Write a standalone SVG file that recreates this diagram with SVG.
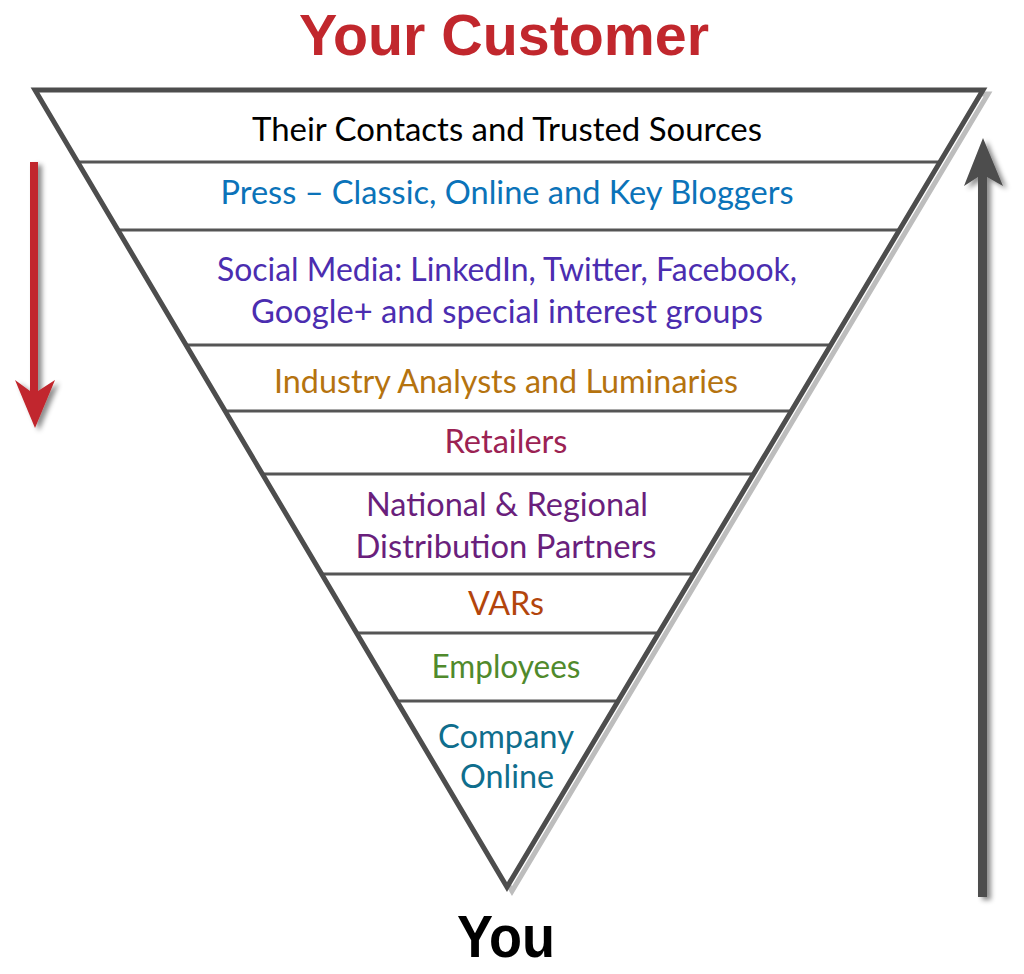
<svg xmlns="http://www.w3.org/2000/svg" width="1024" height="974" viewBox="0 0 1024 974">
<defs>
<filter id="sh" x="-50%" y="-10%" width="200%" height="120%">
<feDropShadow dx="4" dy="3" stdDeviation="2.5" flood-color="#000" flood-opacity="0.45"/>
</filter>
<style>
.lbl{font-family:Lato,"Open Sans","Liberation Sans",sans-serif;font-size:32px;text-anchor:middle}
.band{stroke:#555;stroke-width:3}
</style>
</defs>
<rect width="1024" height="974" fill="#fff"/>
<g id="title">
<text x="504" y="55" font-family="'Liberation Sans',Arial,sans-serif" font-weight="bold" font-size="58" fill="#c1272d" text-anchor="middle" textLength="410" lengthAdjust="spacingAndGlyphs">Your Customer</text>
</g>
<g id="funnel">
<polygon points="35,90 983,90 507,887" fill="none" stroke="#bdbdbd" stroke-width="5" transform="translate(5,4)"/>
<polygon points="35,90 983,90 507,887" fill="#fff"/>
</g>
<g id="bands">
<line class="band" x1="77" y1="162" x2="941" y2="162"/>
<line class="band" x1="117" y1="230" x2="900" y2="230"/>
<line class="band" x1="185" y1="345" x2="831" y2="345"/>
<line class="band" x1="224" y1="411" x2="792" y2="411"/>
<line class="band" x1="262" y1="474" x2="754" y2="474"/>
<line class="band" x1="321" y1="574" x2="694" y2="574"/>
<line class="band" x1="356" y1="633" x2="659" y2="633"/>
<line class="band" x1="396" y1="701" x2="618" y2="701"/>
</g>
<g id="outline">
<polygon points="35,90 983,90 507,887" fill="none" stroke="#4d4d4d" stroke-width="5" stroke-linejoin="miter"/>
</g>
<g id="n1"><text class="lbl" x="507" y="141" fill="#000" textLength="510" lengthAdjust="spacingAndGlyphs">Their Contacts and Trusted Sources</text></g>
<g id="n2"><text class="lbl" x="507" y="204" fill="#0b73b9" textLength="573" lengthAdjust="spacingAndGlyphs">Press – Classic, Online and Key Bloggers</text></g>
<g id="n3">
<text class="lbl" x="507" y="281" fill="#4b2db0" textLength="580" lengthAdjust="spacingAndGlyphs">Social Media: LinkedIn, Twitter, Facebook,</text>
<text class="lbl" x="507" y="323" fill="#4b2db0" textLength="512" lengthAdjust="spacingAndGlyphs">Google+ and special interest groups</text>
</g>
<g id="n4"><text class="lbl" x="506" y="393" fill="#b5730f" textLength="464" lengthAdjust="spacingAndGlyphs">Industry Analysts and Luminaries</text></g>
<g id="n5"><text class="lbl" x="506" y="453" fill="#9b2253" textLength="123" lengthAdjust="spacingAndGlyphs">Retailers</text></g>
<g id="n6">
<text class="lbl" x="507" y="516" fill="#6a1f7c" textLength="282" lengthAdjust="spacingAndGlyphs">National &amp; Regional</text>
<text class="lbl" x="506" y="558" fill="#6a1f7c" textLength="301" lengthAdjust="spacingAndGlyphs">Distribution Partners</text>
</g>
<g id="n7"><text class="lbl" x="506" y="615" fill="#b3450c" textLength="76" lengthAdjust="spacingAndGlyphs">VARs</text></g>
<g id="n8"><text class="lbl" x="506" y="678" fill="#508a2c" textLength="149" lengthAdjust="spacingAndGlyphs">Employees</text></g>
<g id="n9">
<text class="lbl" x="506" y="748" fill="#0f6e8d" textLength="136" lengthAdjust="spacingAndGlyphs">Company</text>
<text class="lbl" x="507" y="788" fill="#0f6e8d" textLength="94" lengthAdjust="spacingAndGlyphs">Online</text>
</g>
<g id="you">
<text x="506" y="957" font-family="'Liberation Sans Narrow','Liberation Sans',sans-serif" font-weight="bold" font-size="60" fill="#000" text-anchor="middle" textLength="98" lengthAdjust="spacingAndGlyphs">You</text>
</g>
<g id="connectors">
<polygon id="down-arrow" points="30,162 38,162 38,391 55,380 35,428 15,380 30,391" fill="#c1272d" filter="url(#sh)"/>
<polygon id="up-arrow" points="978,897 978,177 964,186 983,138 1003,186 987,177 987,897" fill="#4d4d4d" filter="url(#sh)"/>
</g>
</svg>
